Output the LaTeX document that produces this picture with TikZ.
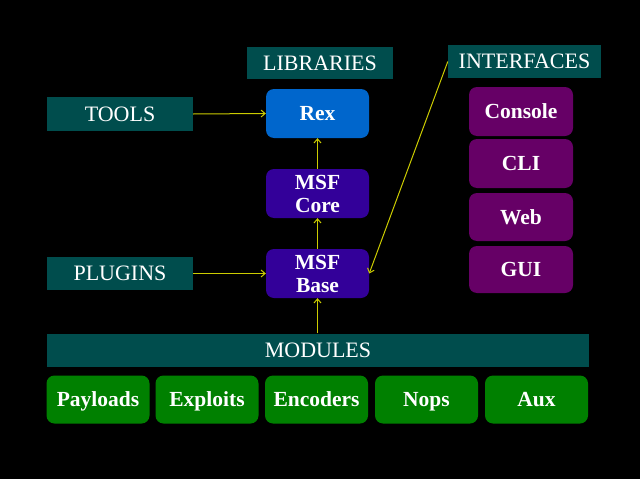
\documentclass[tikz,border=0pt]{standalone}
\usepackage{fontspec}
\setmainfont{Liberation Serif}
\usetikzlibrary{arrows.meta}
\definecolor{hdr}{RGB}{0,77,77}
\definecolor{rexblue}{RGB}{0,102,204}
\definecolor{msf}{RGB}{51,0,153}
\definecolor{intfc}{RGB}{102,0,102}
\definecolor{modg}{RGB}{0,128,0}
\definecolor{arrowy}{RGB}{204,204,0}
\begin{document}
\begin{tikzpicture}[x=1pt,y=-1pt,
  header/.style={fill=hdr,draw=none,inner sep=0pt,text=white,font=\fontsize{22}{24}\selectfont,text height=14.6pt,text depth=0pt},
  boxbase/.style={draw=none,rounded corners=8pt,inner sep=0pt,text=white,align=center,font=\bfseries\fontsize{21.5}{23}\selectfont,minimum width=103pt,minimum height=49pt},
  one/.style={text height=14.2pt,text depth=0pt},
  rexbox/.style={boxbase,fill=rexblue},
  msfbox/.style={boxbase,fill=msf},
  intbox/.style={boxbase,one,fill=intfc,minimum width=104pt},
  modbox/.style={boxbase,one,fill=modg,minimum height=48pt},
  conn/.style={draw=arrowy,line width=1pt,-{Straight Barb[length=4pt,width=7pt]}}
]
\fill[black] (0,0) rectangle (640,479);
\useasboundingbox (0,0) rectangle (640,479);

\node[header,minimum width=146pt,minimum height=32pt] (lib) at (320,63) {LIBRARIES};
\node[header,minimum width=153pt,minimum height=33pt] (intf) at (524.5,61.5) {INTERFACES};
\node[header,minimum width=146pt,minimum height=34pt] (tools) at (120,114) {TOOLS};
\node[header,minimum width=146pt,minimum height=33pt] (plugins) at (120,273.5) {PLUGINS};
\node[header,minimum width=542pt,minimum height=33pt] (modules) at (318,350) {MODULES};

\node[rexbox,one] (rex) at (317.5,113.5) {Rex};
\node[msfbox] (core) at (317.5,193.5) {MSF\\Core};
\node[msfbox] (base) at (317.5,273.5) {MSF\\Base};

\node[intbox] (console) at (521,111.5) {Console};
\node[intbox] (cli) at (521,163.5) {CLI};
\node[intbox,minimum height=48pt] (web) at (521,217) {Web};
\node[intbox,minimum height=47pt] (gui) at (521,269.5) {GUI};

\node[modbox] (payloads) at (98,399.5) {Payloads};
\node[modbox] (exploits) at (207,399.5) {Exploits};
\node[modbox] (encoders) at (316.5,399.5) {Encoders};
\node[modbox] (nops) at (426.5,399.5) {Nops};
\node[modbox] (aux) at (536.5,399.5) {Aux};

\draw[conn] (tools.east) -- (rex.west);
\draw[conn] (plugins.east) -- (base.west);
\draw[conn] (base.north) -- (core.south);
\draw[conn] (core.north) -- (rex.south);
\draw[conn] (modules.north -| base.south) -- (base.south);
\draw[conn] (intf.west) -- (base.east);
\end{tikzpicture}
\end{document}
